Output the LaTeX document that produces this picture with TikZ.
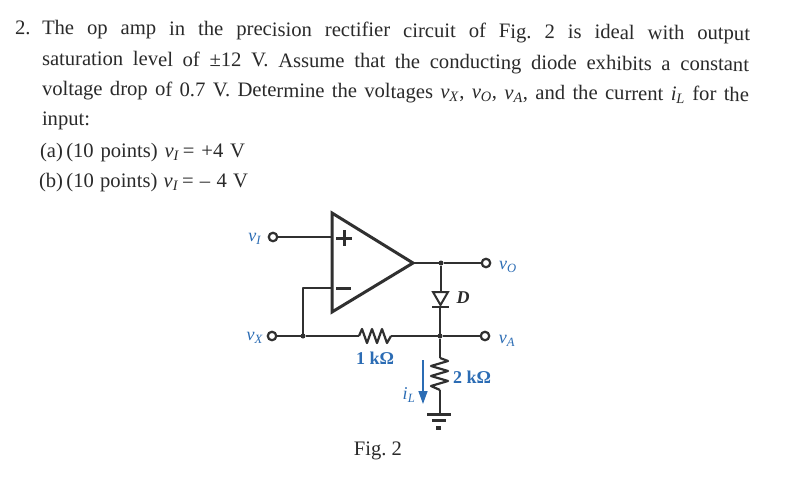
\documentclass[tikz,border=0pt]{standalone}
\usepackage{fontspec}
\setmainfont{Liberation Serif}
\usetikzlibrary{arrows.meta}
\definecolor{inkblue}{HTML}{2B6CB4}
\definecolor{inktext}{HTML}{2A2A2A}
\definecolor{inkwire}{HTML}{303030}
\newcommand{\vv}[1]{\textit{v}\textsubscript{\textit{#1}}}
\newcommand{\ii}[1]{\textit{i}\textsubscript{\textit{#1}}}
\tikzset{
  para/.style={anchor=base west,inner sep=0pt,outer sep=0pt,rotate=-0.5,text=inktext,font=\fontsize{20.6}{24}\selectfont},
  wire/.style={draw=inkwire,line width=1.5pt,line join=round},
  thick wire/.style={draw=inkwire,line width=3pt,line join=miter},
  term/.style={circle,draw=inkwire,line width=2.2pt,fill=white,minimum size=8.5pt,inner sep=0pt,outer sep=0pt},
  dotn/.style={circle,fill=inkwire,minimum size=5pt,inner sep=0pt,outer sep=0pt},
  lab/.style={text=inkblue,inner sep=0pt,font=\fontsize{18}{20}\selectfont},
  blab/.style={text=inkblue,inner sep=0pt,font=\bfseries\fontsize{18}{20}\selectfont},
  signbar/.style={draw=inkwire,line width=3pt},
  gnd/.style={draw=inkwire,line width=3pt}
}
\begin{document}
\frenchspacing
\begin{tikzpicture}[x=1pt,y=-1pt]
\useasboundingbox[fill=white] (0,0) rectangle (809,477);
% text
\node[para] (n) at (15,34) {2.};
\node[para] (l1) at (42,34) {\makebox[708pt][s]{The op amp in the precision rectifier circuit of Fig. 2 is ideal with output}};
\node[para] (l2) at (42,65) {\makebox[707pt][s]{saturation level of ±12 V. Assume that the conducting diode exhibits a constant}};
\node[para] (l3) at (42,95) {\makebox[707pt][s]{voltage drop of 0.7 V. Determine the voltages \vv{X}, \vv{O}, \vv{A}, and the current \ii{L} for the}};
\node[para,rotate=0.5] (l4) at (42,125) {input:};
\node[para,rotate=0.5] (l5) at (40,157) {\makebox[205pt][s]{(a)\,(10 points) \vv{I}\,= +4 V}};
\node[para,rotate=0.5] (l6) at (39,187) {\makebox[209pt][s]{(b)\,(10 points) \vv{I}\,= – 4 V}};
\node[para,rotate=0.5,anchor=base] (fig) at (378,455) {Fig. 2};
% coordinates
\coordinate (A) at (332,213);
\coordinate (B) at (332,312);
\coordinate (C) at (413,263);
\coordinate (P) at (332,237);
\coordinate (M) at (332,288);
\coordinate (K) at (303,288);
\node[dotn] (J1) at (303,336) {};
\node[dotn] (J2) at (441,263) {};
\node[dotn] (J3) at (440,336) {};
\node[term] (TI) at (273,237) {};
\node[term] (TX) at (272,336) {};
\node[term] (TO) at (486,263) {};
\node[term] (TA) at (485,336) {};
\coordinate (R1a) at (359,336);
\coordinate (R1b) at (391,336);
\coordinate (R2a) at (440,358);
\coordinate (R2b) at (440,390);
\coordinate (G) at (440,414);
\coordinate (Dt) at (440,292);
\coordinate (Db) at (440,307);
% wires
\draw[wire] (TI) -- (P);
\draw[wire] (M) -- (K) -- (J1);
\draw[wire] (TX) -- (J1) -- (R1a);
\draw[wire] (R1b) -- (J3) -- (TA);
\draw[wire] (C) -- (J2) -- (TO);
\draw[wire] (J2) -- (J2 |- Dt);
\draw[wire] (Db) -- (J3);
\draw[wire] (J3) -- (R2a);
\draw[wire] (R2b) -- (G);
% op amp
\draw[thick wire] (A) -- (C) -- (B) -- cycle;
\draw[signbar] (336,238) -- (352,238) (344,230) -- (344,246);
\draw[signbar] (336,288) -- (351,288);
% resistors
\draw[wire,line width=2.2pt,line join=round] (R1a) -- (362,329) -- (367,343) -- (372,329) -- (377,343) -- (382,329) -- (387,343) -- (R1b);
\draw[wire,line width=2.2pt,line join=round] (R2a) -- (448,361) -- (431,366) -- (448,371) -- (431,376) -- (448,381) -- (431,386) -- (R2b);
% diode
\draw[draw=inkwire,line width=2pt,line join=miter,fill=white] (433,292) -- (448,292) -- (440.5,305) -- cycle;
\draw[draw=inkwire,line width=2.2pt] (432,307) -- (449,307);
% ground
\draw[gnd] (427,414) -- (451,414);
\draw[gnd] (432,420.5) -- (446,420.5);
\draw[gnd,line width=3.5pt] (436,428) -- (441,428);
% current arrow
\coordinate (Ia) at (423,360);
\coordinate (Ib) at (423,404);
\draw[draw=inkblue,line width=1.4pt,-{Triangle[length=13pt,width=9pt]}] (Ia) -- (Ib);
% labels
\node[lab] (lI) at (255,239) {\vv{I}};
\node[lab] (lX) at (255,338) {\vv{X}};
\node[lab] (lO) at (508,267) {\vv{O}};
\node[lab] (lA) at (507,341) {\vv{A}};
\node[blab,font=\bfseries\itshape\fontsize{18}{20}\selectfont,text=inktext] (lD) at (463,298) {D};
\node[blab] (l1k) at (375,358) {1 kΩ};
\node[blab] (l2k) at (472,377) {2 kΩ};
\node[lab] (lL) at (409,395) {\ii{L}};
\end{tikzpicture}
\end{document}
